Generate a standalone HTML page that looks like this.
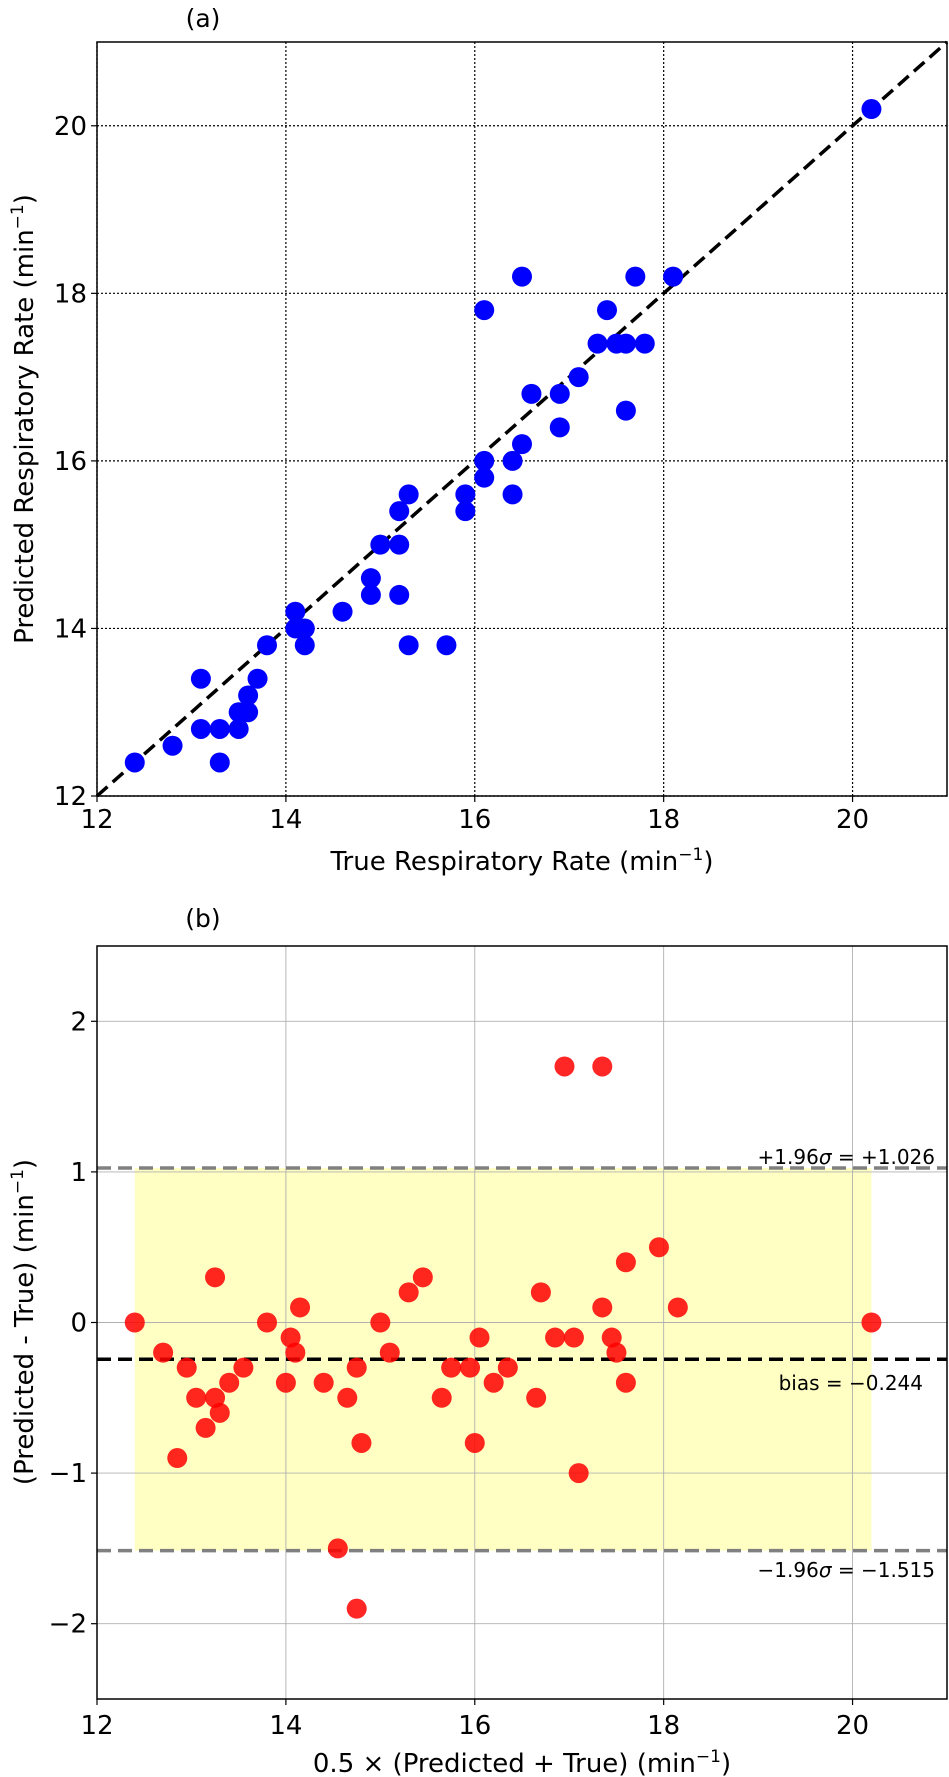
<!DOCTYPE html>
<html><head><meta charset="utf-8"><style>
body{margin:0;background:#fff}
svg{display:block;font-family:"DejaVu Sans","Liberation Sans",sans-serif}
</style></head><body>
<svg id="fig" width="949" height="1777" viewBox="0 0 949 1777" xmlns="http://www.w3.org/2000/svg"></svg>
<script>
const trueRR=[12.4,12.8,13.1,13.1,13.3,13.3,13.5,13.5,13.6,13.6,13.7,13.8,14.1,14.1,14.2,14.2,14.6,14.9,14.9,15.0,15.2,15.2,15.2,15.3,15.3,15.7,15.9,15.9,16.1,16.1,16.1,16.4,16.4,16.5,16.5,16.6,16.9,16.9,17.1,17.3,17.4,17.5,17.6,17.6,17.7,17.8,18.1,20.2];
const predRR=[12.4,12.6,13.4,12.8,12.8,12.4,12.8,13.0,13.0,13.2,13.4,13.8,14.2,14.0,14.0,13.8,14.2,14.6,14.4,15.0,15.4,15.0,14.4,15.6,13.8,13.8,15.6,15.4,17.8,16.0,15.8,16.0,15.6,18.2,16.2,16.8,16.8,16.4,17.0,17.4,17.8,17.4,17.4,16.6,18.2,17.4,18.2,20.2];
const baMean=[12.4,12.7,12.85,12.95,13.05,13.15,13.25,13.25,13.3,13.4,13.55,13.8,14.0,14.05,14.1,14.15,14.4,14.55,14.65,14.75,14.75,14.8,15.0,15.1,15.3,15.45,15.65,15.75,15.95,16.0,16.05,16.2,16.35,16.65,16.7,16.85,16.95,17.05,17.1,17.35,17.35,17.45,17.5,17.6,17.6,17.95,18.15,20.2];
const baDiff=[0,-0.2,-0.9,-0.3,-0.5,-0.7,0.3,-0.5,-0.6,-0.4,-0.3,0,-0.4,-0.1,-0.2,0.1,-0.4,-1.5,-0.5,-0.3,-1.9,-0.8,0,-0.2,0.2,0.3,-0.5,-0.3,-0.3,-0.8,-0.1,-0.4,-0.3,-0.5,0.2,-0.1,1.7,-0.1,-1.0,1.7,0.1,-0.1,-0.2,0.4,-0.4,0.5,0.1,0];
const xTicks=[12,14,16,18,20];
const yTicksA=[12,14,16,18,20];
const yTicksB=[-2,-1,0,1,2];
const yTickLabelsB=["\u22122","\u22121","0","1","2"];
const bias=-0.244, upper=1.026, lower=-1.515;

const NS="http://www.w3.org/2000/svg";
const svg=document.getElementById('fig');
function mk(tag,attrs,parent,txt){const e=document.createElementNS(NS,tag);for(const k in attrs)e.setAttribute(k,attrs[k]);if(txt!==undefined)e.textContent=txt;(parent||svg).appendChild(e);return e;}
const L=97,R=947;
const xs=v=>L+(v-12)/9*(R-L);
const aT=42,aB=796;
const ya=v=>aB-(v-12)/9*(aB-aT);
const bT=946,bB=1699;
const yb=v=>bB-(v+2.5)/5*(bB-bT);

function grid(g,yt,yf,T,B,dotted){
  xTicks.forEach(v=>{const l=mk('line',{x1:xs(v),x2:xs(v),y1:T,y2:B,stroke:dotted?'#000':'#b0b0b0','stroke-width':dotted?1.2:0.9,'stroke-dasharray':dotted?'2,2':'none'},g);
    
    });
  yt.forEach(v=>{const l=mk('line',{x1:L,x2:R,y1:yf(v),y2:yf(v),stroke:dotted?'#000':'#b0b0b0','stroke-width':dotted?1.2:0.9,'stroke-dasharray':dotted?'2,2':'none'},g);
    
    });
}
function axes(g,yt,ylabels,yf,T,B,xlabel,ylabel,ylabelY,title,titleY,tickY,xlabY){
  const fr=mk('rect',{x:L,y:T,width:R-L,height:B-T,fill:'none',stroke:'#000','stroke-width':1.5},g);
  
  
  xTicks.forEach(v=>{
    mk('line',{x1:xs(v),x2:xs(v),y1:B,y2:B+6,stroke:'#000','stroke-width':1.2},g);
    const t=mk('text',{x:xs(v),y:tickY,'text-anchor':'middle','font-size':26},g,String(v));
    
    
  });
  yt.forEach((v,i)=>{
    mk('line',{x1:L-6,x2:L,y1:yf(v),y2:yf(v),stroke:'#000','stroke-width':1.2},g);
    const t=mk('text',{x:L-10,y:yf(v)+9,'text-anchor':'end','font-size':26},g,ylabels[i]);
    
    
  });
  const xl=mk('text',{x:(L+R)/2,y:xlabY,'text-anchor':'middle','font-size':26},g);
  xl.innerHTML=xlabel;
  
  
  const yl=mk('text',{x:0,y:0,'text-anchor':'middle','font-size':26,transform:`translate(33,${ylabelY}) rotate(-90)`},g);
  yl.innerHTML=ylabel;
  
  
  const tt=mk('text',{x:203,y:titleY,'text-anchor':'middle','font-size':25},g,title);
  
  
}
const unitA='(min<tspan dy="-10" font-size="17">\u22121</tspan><tspan dy="10">)</tspan>';

// Panel A
const gA=mk('g',{});


grid(gA,yTicksA,ya,aT,aB,true);
const idl=mk('line',{x1:xs(12),y1:ya(12),x2:xs(21),y2:ya(21),stroke:'#000','stroke-width':3.5,'stroke-dasharray':'14,7'},gA);


trueRR.forEach((v,i)=>{const c=mk('circle',{cx:xs(v),cy:ya(predRR[i]),r:10,fill:'#0000ff'},gA);
  
  });
axes(gA,yTicksA,yTicksA.map(String),ya,aT,aB,'True Respiratory Rate '+unitA,'Predicted Respiratory Rate '+unitA,419,'(a)',27,828,870);

// Panel B
const gB=mk('g',{});


const band=mk('rect',{x:xs(12.4),y:yb(upper),width:xs(20.2)-xs(12.4),height:yb(lower)-yb(upper),fill:'#ffffc4'},gB);


grid(gB,yTicksB,yb,bT,bB,false);
[[upper,'upper-limit-line'],[lower,'lower-limit-line']].forEach(([v,n])=>{const l=mk('line',{x1:L,x2:R,y1:yb(v),y2:yb(v),stroke:'#808080','stroke-width':3.5,'stroke-dasharray':'14,7'},gB);
  
  });
const bl=mk('line',{x1:L,x2:R,y1:yb(bias),y2:yb(bias),stroke:'#000','stroke-width':3.5,'stroke-dasharray':'14,7'},gB);


baMean.forEach((v,i)=>{const c=mk('circle',{cx:xs(v),cy:yb(baDiff[i]),r:10,fill:'#ff0000','fill-opacity':0.85},gB);
  
  });
let t=mk('text',{x:935,y:1164,'text-anchor':'end','font-size':20},gB);
t.innerHTML='+1.96<tspan font-style="italic">σ</tspan> = +1.026';


t=mk('text',{x:923,y:1390,'text-anchor':'end','font-size':20},gB,'bias = \u22120.244');


t=mk('text',{x:935,y:1577,'text-anchor':'end','font-size':20},gB);
t.innerHTML='\u22121.96<tspan font-style="italic">σ</tspan> = \u22121.515';


axes(gB,yTicksB,yTickLabelsB,yb,bT,bB,'0.5 × (Predicted + True) '+unitA,'(Predicted - True) '+unitA,1322,'(b)',927,1734,1772);
</script>
</body></html>
